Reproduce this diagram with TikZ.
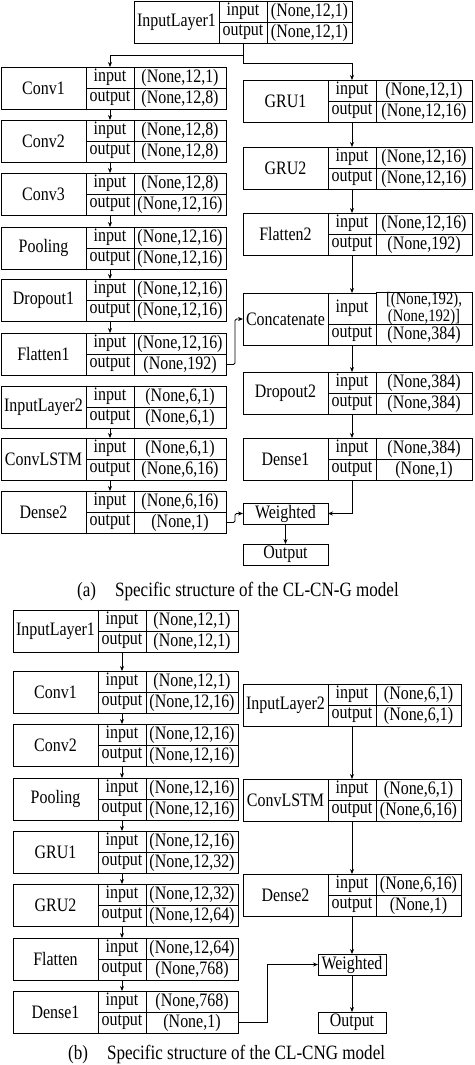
\documentclass[tikz,border=0pt]{standalone}
\usepackage{fontspec}
\setmainfont{Liberation Serif}[FakeStretch=0.84]
\usetikzlibrary{arrows.meta}
\tikzstyle{cell} = [draw, rectangle, line width=0.9pt, inner sep=0pt, outer sep=0pt, font=\fontsize{19}{19}\selectfont]
\tikzstyle{namecell} = [cell, minimum width=85pt, minimum height=42pt]
\tikzstyle{iocell} = [cell, minimum width=48pt, minimum height=21pt]
\tikzstyle{valcell} = [cell, minimum height=21pt]
\tikzstyle{flow} = [-{Stealth[length=5pt,width=4pt]}, line width=0.8pt]
\tikzstyle{caption} = [anchor=west, inner sep=0pt, font=\fontsize{20.3}{20}\selectfont]

% id, x, y, label, input shape, output shape, value width
\newcommand{\layer}[7]{%
	\node[namecell, anchor=north west] (#1) at (#2,#3) {#4};
	\node[iocell, anchor=north west] (#1-i) at (#1.north east) {input};
	\node[iocell, anchor=south west] (#1-o) at (#1.south east) {output};
	\node[valcell, minimum width=#7pt, anchor=west] (#1-iv) at (#1-i.east) {#5};
	\node[valcell, minimum width=#7pt, anchor=west] (#1-ov) at (#1-o.east) {#6};
}

\begin{document}
\begin{tikzpicture}[x=1pt, y=-1pt]
	\useasboundingbox (0,0) rectangle (474,1065);
	
	% (a) CL-CN-G
	\layer{inA1}{134}{1}{InputLayer1}{(None,12,1)}{(None,12,1)}{85}
	\layer{convA1}{1}{67}{Conv1}{(None,12,1)}{(None,12,8)}{92}
	\layer{convA2}{1}{120}{Conv2}{(None,12,8)}{(None,12,8)}{92}
	\layer{convA3}{1}{173}{Conv3}{(None,12,8)}{(None,12,16)}{92}
	\layer{poolA}{1}{227}{Pooling}{(None,12,16)}{(None,12,16)}{92}
	\layer{dropA1}{1}{279}{Dropout1}{(None,12,16)}{(None,12,16)}{92}
	\layer{flatA1}{1}{333}{Flatten1}{(None,12,16)}{(None,192)}{92}
	\layer{inA2}{1}{386}{InputLayer2}{(None,6,1)}{(None,6,1)}{92}
	\layer{lstmA}{1}{438}{ConvLSTM}{(None,6,1)}{(None,6,16)}{92}
	\layer{denA2}{1}{491}{Dense2}{(None,6,16)}{(None,1)}{92}
	
	\layer{gruA1}{243}{80}{GRU1}{(None,12,1)}{(None,12,16)}{96}
	\layer{gruA2}{243}{147}{GRU2}{(None,12,16)}{(None,12,16)}{96}
	\layer{flatA2}{243}{213}{Flatten2}{(None,12,16)}{(None,192)}{96}
	\node[namecell, minimum height=52pt, anchor=north west] (cat) at (243,293) {Concatenate};
	\node[iocell, minimum height=31pt, anchor=north west] (cat-i) at (cat.north east) {input};
	\node[iocell, anchor=south west] (cat-o) at (cat.south east) {output};
	\node[valcell, minimum width=96pt, minimum height=31pt, anchor=west, align=center, font=\fontsize{17.5}{11}\selectfont] (cat-iv) at (cat-i.east) {[(None,192),\\(None,192)]};
	\node[valcell, minimum width=96pt, anchor=west] (cat-ov) at (cat-o.east) {(None,384)};
	\layer{dropA2}{243}{372}{Dropout2}{(None,384)}{(None,384)}{96}
	\layer{denA1}{243}{438}{Dense1}{(None,384)}{(None,1)}{96}
	
	\node[cell, minimum width=85pt, minimum height=21pt, anchor=north west] (wA) at (243,503) {Weighted};
	\node[cell, minimum width=85pt, minimum height=21pt, anchor=north west] (outA) at (243,544) {Output};
	
	\draw[flow] (inA1-o.south) -- ++(0,12) -| (convA1-i.north);
	\draw[flow] (inA1-o.south) -- ++(0,20) -| (gruA1-i.north);
	\foreach \a/\b in {convA1/convA2, convA2/convA3, convA3/poolA, poolA/dropA1, dropA1/flatA1, inA2/lstmA, lstmA/denA2, gruA1/gruA2, gruA2/flatA2, flatA2/cat, cat/dropA2, dropA2/denA1}
		\draw[flow] (\a-o.south) -- (\b-i.north);
	\draw[flow, rounded corners=1.5pt] (flatA1-ov.east) -- ++(9,0) |- (cat.west);
	\draw[flow, rounded corners=1.5pt] (denA2-ov.east) -- ++(9,0) |- (wA.west);
	\draw[flow] (denA1-o.south) |- (wA.east);
	\draw[flow] (wA) -- (outA);
	
	\node[caption] (capA) at (77,592) {(a)\hspace{19pt}Specific structure of the CL-CN-G model};
	
	% (b) CL-CNG
	\layer{inB1}{13}{610}{InputLayer1}{(None,12,1)}{(None,12,1)}{92}
	\layer{convB1}{13}{671}{Conv1}{(None,12,1)}{(None,12,16)}{92}
	\layer{convB2}{13}{724}{Conv2}{(None,12,16)}{(None,12,16)}{92}
	\layer{poolB}{13}{778}{Pooling}{(None,12,16)}{(None,12,16)}{92}
	\layer{gruB1}{13}{831}{GRU1}{(None,12,16)}{(None,12,32)}{92}
	\layer{gruB2}{13}{884}{GRU2}{(None,12,32)}{(None,12,64)}{92}
	\layer{flatB}{13}{938}{Flatten}{(None,12,64)}{(None,768)}{92}
	\layer{denB1}{13}{991}{Dense1}{(None,768)}{(None,1)}{92}
	
	\layer{inB2}{243}{684}{InputLayer2}{(None,6,1)}{(None,6,1)}{85}
	\layer{lstmB}{243}{779}{ConvLSTM}{(None,6,1)}{(None,6,16)}{85}
	\layer{denB2}{243}{874}{Dense2}{(None,6,16)}{(None,1)}{85}
	
	\node[cell, minimum width=68pt, minimum height=21pt, anchor=north west] (wB) at (318,954) {Weighted};
	\node[cell, minimum width=68pt, minimum height=21pt, anchor=north west] (outB) at (318,1012) {Output};
	
	\foreach \a/\b in {inB1/convB1, convB1/convB2, convB2/poolB, poolB/gruB1, gruB1/gruB2, gruB2/flatB, flatB/denB1, inB2/lstmB, lstmB/denB2}
		\draw[flow] (\a-o.south) -- (\b-i.north);
	\draw[flow] (denB2-o.south) -- (wB.north);
	\draw[flow] (wB) -- (outB);
	\draw[flow] (denB1-ov.east) -- ++(29,0) |- (wB.west);
	
	\node[caption] (capB) at (68,1055) {(b)\hspace{19pt}Specific structure of the CL-CNG model};
\end{tikzpicture}
\end{document}
